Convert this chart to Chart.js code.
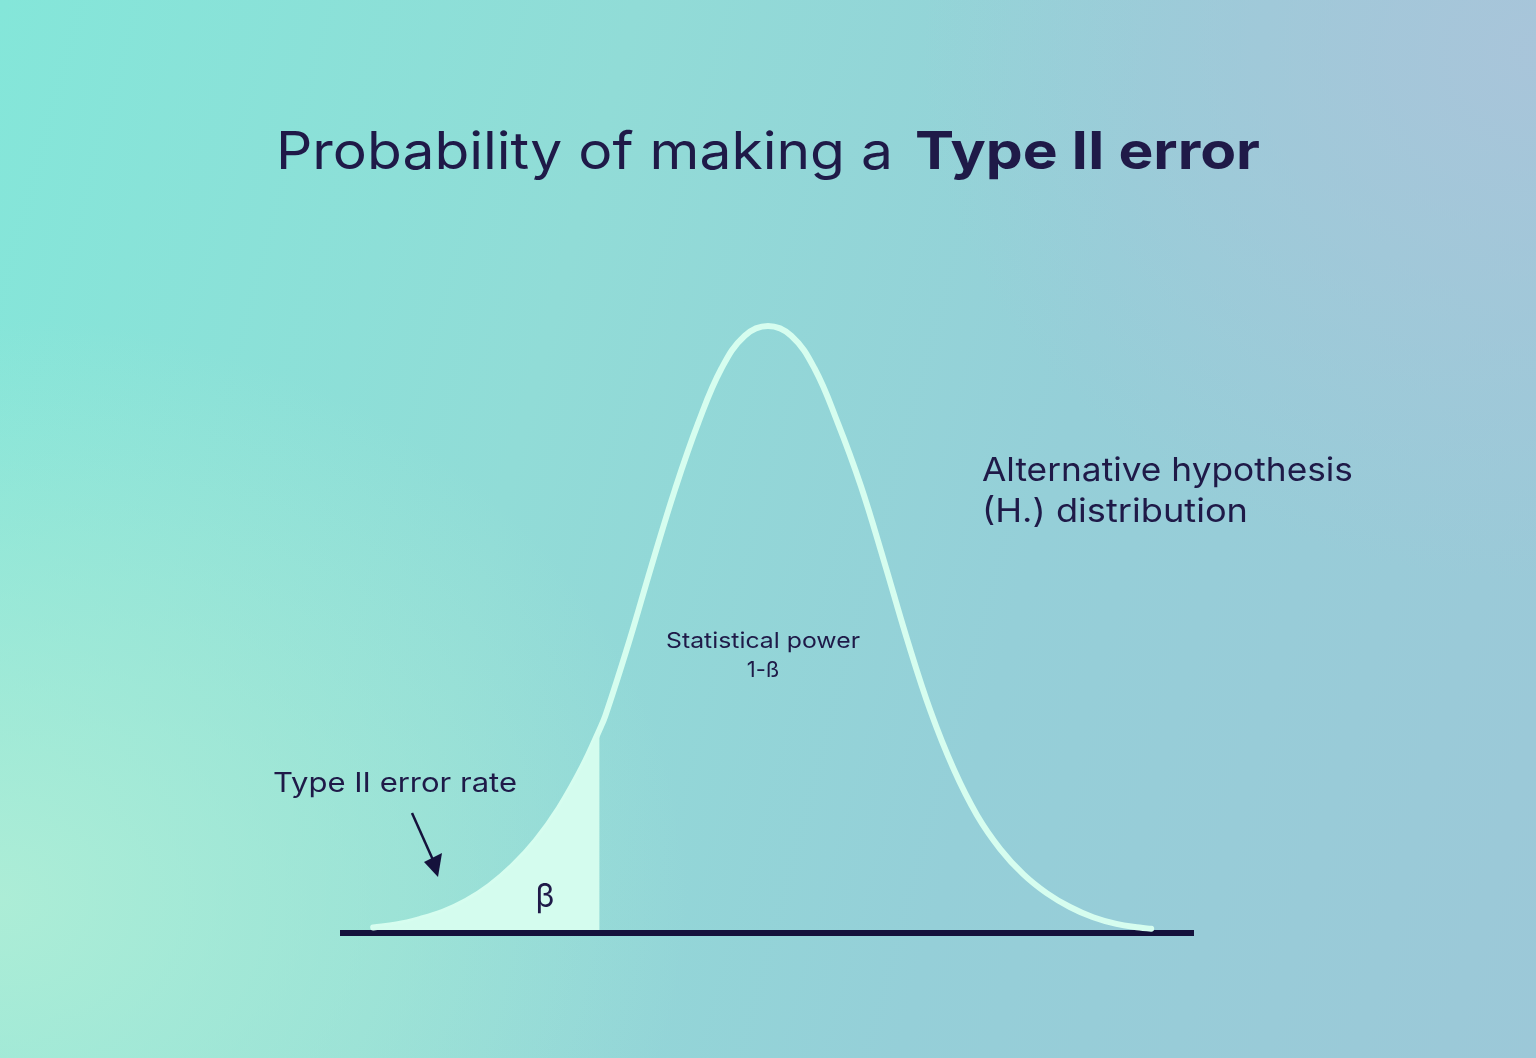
<!DOCTYPE html>
<html>
<head>
<meta charset="utf-8">
<script src="https://cdn.jsdelivr.net/npm/chart.js@4.4.1/dist/chart.umd.min.js"></script>
<style>
  html, body { margin: 0; padding: 0; }
  body {
    width: 1536px;
    height: 1058px;
    overflow: hidden;
    position: relative;
    background:
      radial-gradient(ellipse 45% 55% at 0% 85%, rgba(176, 238, 214, 0.9), rgba(176, 238, 214, 0) 100%),
      radial-gradient(ellipse 40% 50% at 100% 5%, rgba(170, 196, 218, 0.9), rgba(170, 196, 218, 0) 100%),
      linear-gradient(105deg, #84e6d9 0%, #91dcd7 35%, #95cfd8 65%, #9cc8d8 100%);
  }
  .chart-box { position: absolute; left: 0; top: 0; width: 1536px; height: 1058px; }
  svg.labels { position: absolute; left: 0; top: 0; pointer-events: none; }
  svg.labels text { font-family: Inter, "Noto Sans", sans-serif; fill: #1f1a48; }
</style>
</head>
<body>
<div class="chart-box"><canvas id="powerChart"></canvas></div>

<svg class="labels" width="1536" height="1058" viewBox="0 0 1536 1058">
  <text x="276" y="169" font-size="52" textLength="617" lengthAdjust="spacingAndGlyphs">Probability of making a</text>
  <text x="915" y="169" font-size="52" font-weight="700" textLength="345" lengthAdjust="spacingAndGlyphs">Type II error</text>

  <text x="982" y="481" font-size="33" textLength="371" lengthAdjust="spacingAndGlyphs">Alternative hypothesis</text>
  <text x="982" y="522" font-size="33" textLength="266" lengthAdjust="spacingAndGlyphs">(H.) distribution</text>

  <text x="763" y="648" font-size="22" text-anchor="middle" textLength="194" lengthAdjust="spacingAndGlyphs">Statistical power</text>
  <text x="763" y="677" font-size="22" text-anchor="middle">1-ß</text>

  <text x="273" y="792" font-size="27" textLength="244" lengthAdjust="spacingAndGlyphs">Type II error rate</text>
  <text x="545" y="907" font-size="32" text-anchor="middle">β</text>

  <line x1="412" y1="813" x2="433" y2="860" stroke="#15123c" stroke-width="2.5"/>
  <polygon points="438,877 424,862 442,853" fill="#15123c"/>
</svg>

<script>
// H1 curve, x in units of one standard deviation from the mean
const xPositions = [-3.4, -3.2, -3.0, -2.8, -2.6, -2.4, -2.2, -2.0, -1.8, -1.6, -1.45, -1.4, -1.2, -1.0, -0.8, -0.6, -0.4, -0.2, 0,
	0.2, 0.4, 0.6, 0.8, 1.0, 1.2, 1.4, 1.6, 1.8, 2.0, 2.2, 2.4, 2.6, 2.8, 3.0, 3.2, 3.3];
// curve height, percent of the peak
const curveHeights = [0.4, 0.9, 1.8, 3.0, 4.8, 7.3, 10.6, 14.8, 20.2, 27.0, 33.2, 35.5, 47.5, 60.5, 73.0, 84.0, 93.0, 98.4, 100,
	98.4, 93.0, 84.0, 73.5, 61.0, 48.0, 36.2, 26.6, 19.0, 13.4, 9.2, 6.1, 3.8, 2.1, 1.0, 0.4, 0.2];
// critical value: everything left of it is beta
const betaCutoff = -1.45;

const curvePoints = xPositions.map((x, i) => ({ x: x, y: curveHeights[i] }));
const betaPoints = curvePoints.filter((p) => p.x <= betaCutoff);

const data = {
	datasets: [
		{
			label: "beta",
			data: betaPoints,
			backgroundColor: "#d4fcee",
			borderWidth: 0,
			pointRadius: 0,
			fill: "origin",
			tension: 0.4,
			clip: false,
		},
		{
			label: "Alternative hypothesis",
			data: curvePoints,
			borderColor: "#d6fdef",
			borderWidth: 6,
			borderCapStyle: "round",
			pointRadius: 0,
			fill: false,
			tension: 0.4,
			clip: false,
		},
	],
};

const config = {
	type: "line",
	data: data,
	options: {
		responsive: true,
		maintainAspectRatio: false,
		animation: false,
		layout: {
			padding: { left: 343, right: 343, top: 265.6, bottom: 125 },
		},
		plugins: {
			legend: { display: false },
			tooltip: { enabled: false },
			title: { display: false },
		},
		scales: {
			x: {
				type: "linear",
				min: -3.66,
				max: 3.66,
				z: 1,
				grid: { display: false, drawTicks: false },
				ticks: { display: false },
				border: { display: true, color: "#15123c", width: 6 },
			},
			y: {
				min: -0.5,
				max: 110,
				display: false,
			},
		},
	},
};

const powerChart = new Chart(document.getElementById("powerChart"), config);
</script>
</body>
</html>
